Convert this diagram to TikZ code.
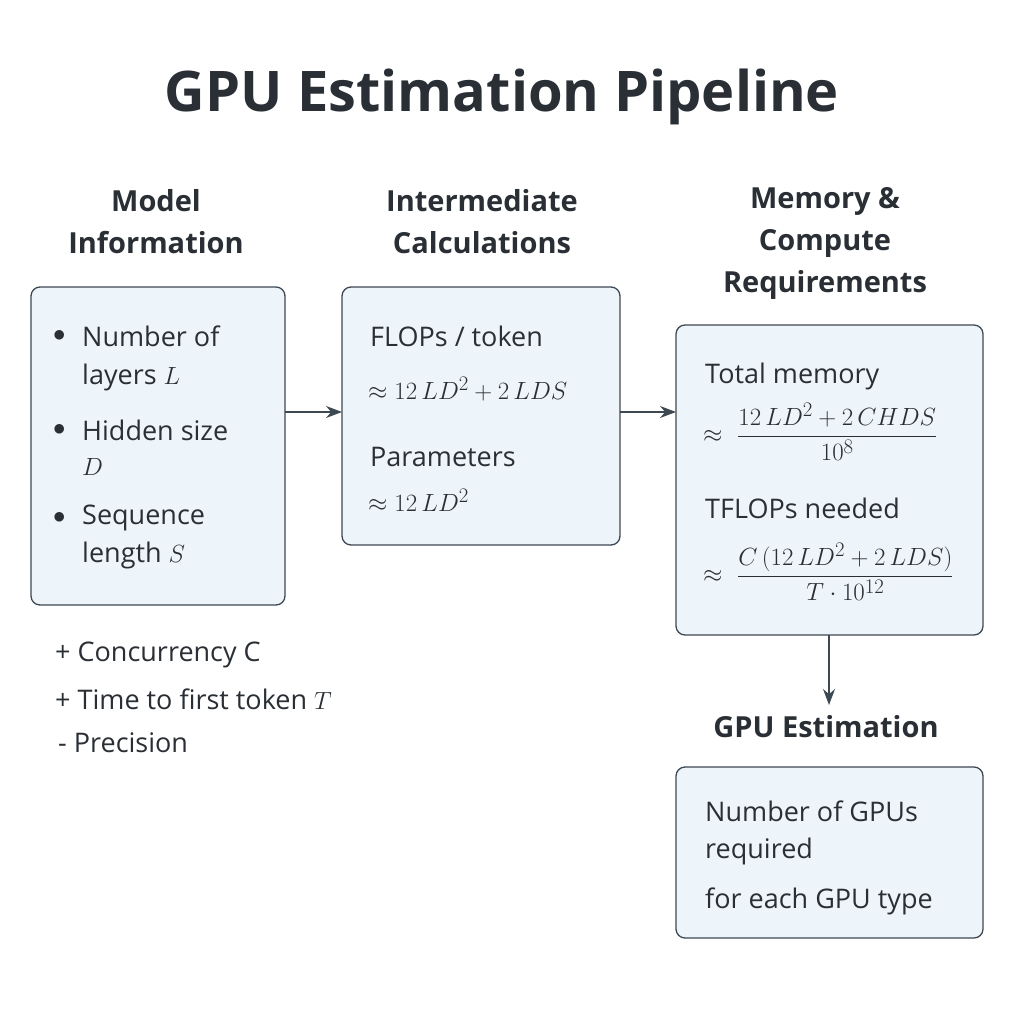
\documentclass[tikz,border=0pt]{standalone}
\usepackage{fontspec}
\usepackage{amsmath}
\setmainfont{Open Sans}
\usetikzlibrary{arrows.meta}
\definecolor{bfill}{HTML}{EEF5FA}
\definecolor{bdraw}{HTML}{3E4852}
\definecolor{txt}{HTML}{2A2F35}
\begin{document}
\begin{tikzpicture}[x=1pt,y=-1pt,
  box/.style={draw=bdraw,line width=1.3pt,fill=bfill,rounded corners=9pt},
  t/.style={anchor=west,inner sep=0pt,font=\fontsize{27}{32}\selectfont,text=txt},
  mt/.style={anchor=west,inner sep=0pt,font=\fontsize{30}{36}\selectfont,text=txt},
  h/.style={align=center,inner sep=0pt,font=\fontsize{29}{42}\selectfont\bfseries,text=txt},
  arr/.style={draw=bdraw,line width=1.5pt,-{Stealth[length=16pt,width=12pt]}}]
\useasboundingbox (0,0) rectangle (1024,1024);
\fill[white] (0,0) rectangle (1024,1024);
\node[font=\fontsize{56}{66}\selectfont\bfseries,text=txt] (title) at (502,97) {GPU Estimation Pipeline};
\node[h] (h1) at (156,222) {Model\\Information};
\node[h] (h2) at (482,222) {Intermediate\\Calculations};
\node[h] (h3) at (825,243) {Memory \&\\Compute\\Requirements};
\node[h] (h4) at (826,727) {GPU Estimation};
\draw[box] (31,287) rectangle (285,605);
\draw[box] (342,287) rectangle (620,545);
\draw[box] (676,325) rectangle (983,635);
\draw[box] (676,767) rectangle (983,938);
\coordinate (b1r) at (285,412); \coordinate (b2l) at (342,412);
\coordinate (b2r) at (620,412); \coordinate (b3l) at (676,412);
\coordinate (b3b) at (829,635); \coordinate (h4t) at (829,705);
\draw[arr] (b1r) -- (b2l);
\draw[arr] (b2r) -- (b3l);
\draw[arr] (b3b) -- (h4t);
% box 1
\node[t] (l1) at (53,336) {$\bullet$};
\node[t] (l1a) at (82,336) {Number of};
\node[t] (l1b) at (82,377) {layers {\fontsize{30}{36}\selectfont$L$}};
\node[t] (l2) at (53,430) {$\bullet$};
\node[t] (l2a) at (82,430) {Hidden size};
\node[mt] (l2b) at (82,467) {$D$};
\node[t] (l3) at (53,518) {$\bullet$};
\node[t] (l3a) at (82,518) {Sequence};
\node[t] (l3b) at (82,555) {length {\fontsize{30}{36}\selectfont$S$}};
% box 2
\node[t] (f1) at (370,336) {FLOPs / token};
\node[mt] (f2) at (368,389) {$\approx 12\,LD^2+2\,LDS$};
\node[t] (p1) at (370,457) {Parameters};
\node[mt] (p2) at (368,500) {$\approx 12\,LD^2$};
% box 3
\node[t] (m1) at (705,376) {Total memory};
\node[mt] (m2) at (703,432) {$\approx\ \dfrac{12\,LD^2+2\,CHDS}{10^8}$};
\node[t] (t1) at (705,508) {TFLOPs needed};
\node[mt] (t2) at (703,572) {$\approx\ \dfrac{C\,(12\,LD^2+2\,LDS)}{T\cdot 10^{12}}$};
% box 4
\node[t] (g1) at (705,811) {Number of GPUs};
\node[t] (g2) at (705,851) {required};
\node[t] (g3) at (705,901) {for each GPU type};
% extras
\node[t] (e1) at (55,655) {+ Concurrency C};
\node[t] (e2) at (55,699) {+ Time to first token {\fontsize{30}{36}\selectfont$T$}};
\node[t] (e3) at (58,743) {- Precision};
\end{tikzpicture}
\end{document}
